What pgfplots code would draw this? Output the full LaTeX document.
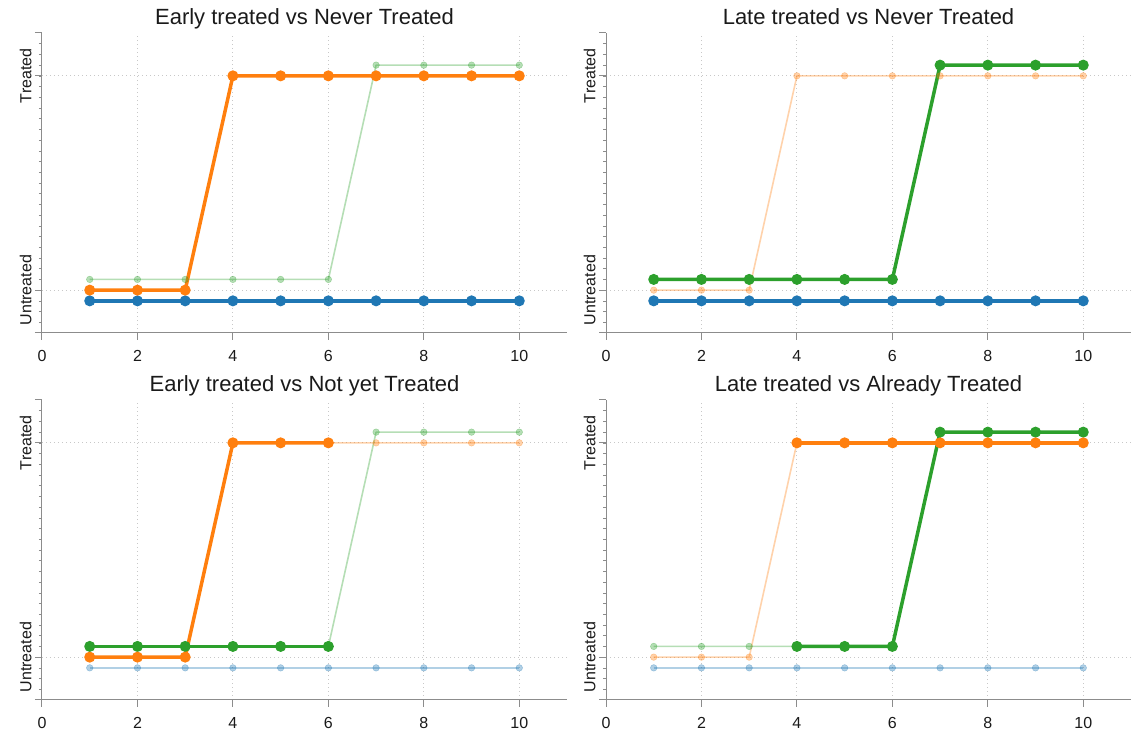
\documentclass[border=0pt]{standalone}
\usepackage{fontspec}
\setmainfont{Liberation Sans}
\usepackage{pgfplots}
\usepackage{pgfplotstable}
\pgfplotsset{compat=1.18}
\definecolor{tblue}{HTML}{1F77B4}
\definecolor{torange}{HTML}{FF7F0E}
\definecolor{tgreen}{HTML}{2CA02C}
\definecolor{axgray}{HTML}{8C8C8C}
\definecolor{gridgray}{HTML}{C8C8C8}
\definecolor{txt}{HTML}{1A1A1A}

\pgfplotstableread{
t y
1 -0.05
2 -0.05
3 -0.05
4 -0.05
5 -0.05
6 -0.05
7 -0.05
8 -0.05
9 -0.05
10 -0.05
}\nevertab
\pgfplotstableread{
t y
1 0
2 0
3 0
4 1
5 1
6 1
7 1
8 1
9 1
10 1
}\earlytab
\pgfplotstableread{
t y
1 0.05
2 0.05
3 0.05
4 0.05
5 0.05
6 0.05
7 1.05
8 1.05
9 1.05
10 1.05
}\latetab

\pgfplotsset{
  panel/.style={
    scale only axis, width=525pt, height=300pt,
    xmin=0, xmax=11, ymin=-0.2, ymax=1.2,
    axis x line*=bottom, axis y line*=left,
    axis line style={draw=axgray, line width=1pt, -},
    xtick={0,2,4,6,8,10},
    ytick={0,1}, yticklabels={Untreated,Treated},
    extra y ticks={-0.2,1.2}, extra y tick labels={},
    extra y tick style={grid=none},
    minor ytick={-0.15,-0.1,...,1.16},
    tick style={draw=axgray, line width=1pt},
    minor tick style={draw=axgray, line width=0.6pt},
    tick align=outside,
    major tick length=7pt, minor tick length=3pt,
    xmajorgrids, ymajorgrids,
    major grid style={draw=gridgray, line width=1pt, dash pattern=on 1pt off 3pt},
    /pgf/number format/assume math mode=true,
    ticklabel style={font=\fontsize{16}{19}\selectfont, text=txt},
    xticklabel shift=7pt,
    yticklabel style={rotate=90, anchor=south},
    title style={at={(0.5,1)}, anchor=base, yshift=2pt, font=\fontsize{22}{26}\selectfont, text=txt},
    clip=false,
  },
  bold/.style={line width=3.5pt, mark=*, mark size=5pt, mark options={line width=1pt}, line join=round, line cap=round},
  faded/.style={line width=1.6pt, mark=*, mark size=3.3pt, mark options={line width=0.5pt}, opacity=0.35, line join=round},
}

\begin{document}
\begin{tikzpicture}[x=1pt,y=1pt]
\useasboundingbox (0,0) rectangle (1136,741);

\begin{axis}[panel, at={(42pt,408pt)}, anchor=south west, title={Early treated vs Never Treated}]
\addplot[faded, color=tgreen] table[x=t,y=y] {\latetab};
\addplot[bold, color=tblue] table[x=t,y=y] {\nevertab};
\addplot[bold, color=torange] table[x=t,y=y] {\earlytab};
\end{axis}

\begin{axis}[panel, at={(606pt,408pt)}, anchor=south west, title={Late treated vs Never Treated}]
\addplot[faded, color=torange] table[x=t,y=y] {\earlytab};
\addplot[bold, color=tblue] table[x=t,y=y] {\nevertab};
\addplot[bold, color=tgreen] table[x=t,y=y] {\latetab};
\end{axis}

\begin{axis}[panel, at={(42pt,41pt)}, anchor=south west, title={Early treated vs Not yet Treated}]
\addplot[faded, color=tblue] table[x=t,y=y] {\nevertab};
\addplot[faded, color=torange] table[x=t,y=y] {\earlytab};
\addplot[faded, color=tgreen] table[x=t,y=y] {\latetab};
\addplot[bold, color=tgreen, restrict x to domain=1:6] table[x=t,y=y] {\latetab};
\addplot[bold, color=torange, restrict x to domain=1:6] table[x=t,y=y] {\earlytab};
\end{axis}

\begin{axis}[panel, at={(606pt,41pt)}, anchor=south west, title={Late treated vs Already Treated}]
\addplot[faded, color=tblue] table[x=t,y=y] {\nevertab};
\addplot[faded, color=torange] table[x=t,y=y] {\earlytab};
\addplot[faded, color=tgreen] table[x=t,y=y] {\latetab};
\addplot[bold, color=tgreen, restrict x to domain=4:10] table[x=t,y=y] {\latetab};
\addplot[bold, color=torange, restrict x to domain=4:10] table[x=t,y=y] {\earlytab};
\end{axis}
\end{tikzpicture}
\end{document}
